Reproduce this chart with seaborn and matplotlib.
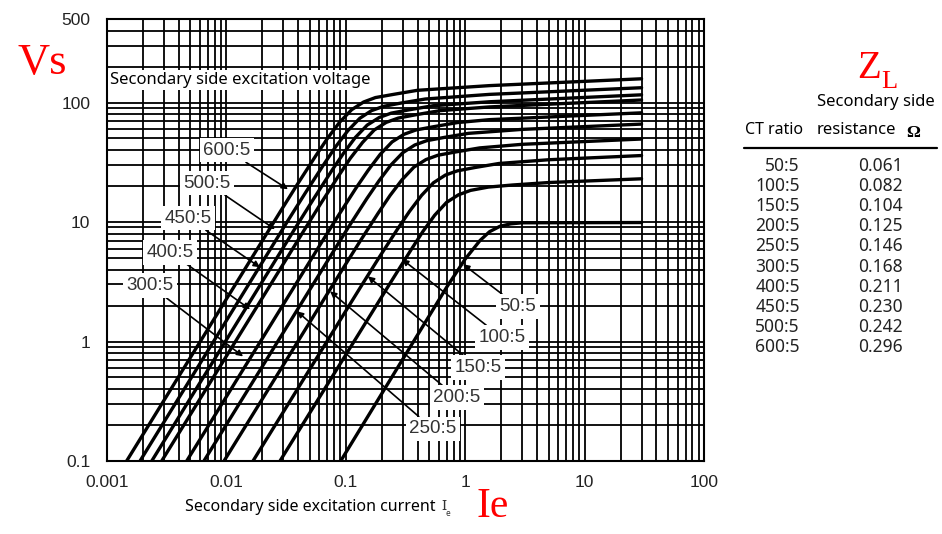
import numpy as np
import pandas as pd
import matplotlib.pyplot as plt
import seaborn as sns
from matplotlib.ticker import FixedLocator, NullFormatter, FixedFormatter
from matplotlib.lines import Line2D

# CT table (right side)
ct_ratios = ['50:5', '100:5', '150:5', '200:5', '250:5',
             '300:5', '400:5', '450:5', '500:5', '600:5']
resistance = ['0.061', '0.082', '0.104', '0.125', '0.146',
              '0.168', '0.211', '0.230', '0.242', '0.296']

# excitation curves: Ie [A] vs Vs [V]
ie_50 = [0.0906, 0.7, 1.0, 1.33, 1.6, 1.95, 2.4, 3.0, 30]
vs_50 = [0.1, 2.85, 4.9, 7.0, 8.3, 9.2, 9.65, 9.85, 9.9]
ie_100 = [0.0281, 0.175, 0.248, 0.350, 0.441, 0.555, 0.698, 0.879, 1.11, 1.56, 2.48, 5.0, 30]
vs_100 = [0.1, 1.91, 3.35, 5.8, 8.3, 11.4, 14.6, 16.9, 18.4, 19.6, 20.4, 21.4, 23]
ie_150 = [0.0167, 0.136, 0.192, 0.272, 0.342, 0.431, 0.542, 0.682, 0.859, 1.21, 1.92, 5.0, 30]
vs_150 = [0.1, 2.96, 5.13, 8.77, 12.3, 16.7, 21.3, 24.7, 26.8, 28.6, 30.9, 33.2, 36]
ie_200 = [0.00955, 0.0935, 0.132, 0.187, 0.235, 0.296, 0.372, 0.469, 0.590, 0.834, 1.32, 3.0, 30]
vs_200 = [0.1, 4.00, 6.93, 11.9, 16.7, 22.6, 28.8, 33.3, 36.2, 38.6, 41.7, 44.7, 49.5]
ie_250 = [0.00648, 0.0753, 0.106, 0.150, 0.189, 0.238, 0.300, 0.378, 0.475, 0.671, 1.064, 3.0, 30]
vs_250 = [0.1, 5.28, 9.16, 15.7, 22.0, 29.9, 38.0, 44.1, 47.9, 51.1, 55.2, 59.6, 66]
ie_300 = [0.00465, 0.0612, 0.0865, 0.122, 0.154, 0.194, 0.244, 0.307, 0.386, 0.546, 0.865, 1.6, 30]
vs_300 = [0.1, 6.50, 11.3, 19.3, 27.1, 36.8, 46.8, 54.2, 58.9, 62.8, 68.0, 71.9, 82]
ie_400 = [0.00287, 0.0436, 0.0615, 0.0869, 0.109, 0.138, 0.173, 0.218, 0.275, 0.388, 0.615, 1.6, 30]
vs_400 = [0.1, 8.18, 14.2, 24.3, 34.1, 46.3, 58.9, 68.2, 74.1, 79.1, 85.5, 91.9, 105]
ie_450 = [0.00237, 0.0380, 0.0537, 0.0759, 0.0955, 0.120, 0.151, 0.191, 0.240, 0.339, 0.537, 1.6, 30]
vs_450 = [0.1, 9.0, 15.6, 26.7, 37.5, 50.9, 64.7, 75.0, 81.5, 86.9, 94.0, 101.5, 116]
ie_500 = [0.00189, 0.0328, 0.0463, 0.0655, 0.0824, 0.104, 0.131, 0.164, 0.207, 0.292, 0.463, 1.6, 30]
vs_500 = [0.1, 10.3, 17.8, 30.4, 42.8, 58.1, 73.8, 85.5, 92.9, 99.1, 107, 117, 133]
ie_600 = [0.00146, 0.0281, 0.0397, 0.0561, 0.0706, 0.0889, 0.112, 0.141, 0.177, 0.251, 0.397, 1.6, 30]
vs_600 = [0.1, 12.1, 21.0, 35.9, 50.5, 68.5, 87.1, 101, 110, 117, 126.5, 138.5, 158]

curves = {'50:5': (ie_50, vs_50), '100:5': (ie_100, vs_100),
          '150:5': (ie_150, vs_150), '200:5': (ie_200, vs_200),
          '250:5': (ie_250, vs_250), '300:5': (ie_300, vs_300),
          '400:5': (ie_400, vs_400), '450:5': (ie_450, vs_450),
          '500:5': (ie_500, vs_500), '600:5': (ie_600, vs_600)}

rows = []
for ratio, (ie, vs) in curves.items():
    rows += [(ratio, i, v) for i, v in zip(ie, vs)]
df = pd.DataFrame(rows, columns=['ratio', 'Ie', 'Vs'])

sns.set_style('white')
plt.rcParams['font.family'] = ['Liberation Sans', 'DejaVu Sans']

W, H = 942, 534
fig = plt.figure(figsize=(W / 100, H / 100), dpi=100)
ax = fig.add_axes([107 / W, 1 - 461 / H, (704 - 107) / W, (461 - 19) / H])
ax.set_xscale('log')
ax.set_yscale('log')

sns.lineplot(data=df, x='Ie', y='Vs', hue='ratio', palette=['black'] * 10,
             estimator=None, sort=False, legend=False, lw=2.4, ax=ax, zorder=3)

ax.set_xlim(0.001, 100)
ax.set_ylim(0.1, 500)

xmaj = [0.001, 0.01, 0.1, 1, 10, 100]
xmin = [m * 10.0 ** k for k in range(-3, 2) for m in range(2, 10)]
ymaj = [0.1, 1, 10, 100, 500]
ymin = [m * 10.0 ** k for k in range(-1, 2) for m in range(2, 10)] + [200, 300, 400]
ax.xaxis.set_major_locator(FixedLocator(xmaj))
ax.xaxis.set_major_formatter(FixedFormatter(['0.001', '0.01', '0.1', '1', '10', '100']))
ax.xaxis.set_minor_locator(FixedLocator(xmin))
ax.xaxis.set_minor_formatter(NullFormatter())
ax.yaxis.set_major_locator(FixedLocator(ymaj))
ax.yaxis.set_major_formatter(FixedFormatter(['0.1', '1', '10', '100', '500']))
ax.yaxis.set_minor_locator(FixedLocator(ymin))
ax.yaxis.set_minor_formatter(NullFormatter())
ax.grid(which='both', color='black', lw=1.3)
ax.set_axisbelow(True)
ax.tick_params(which='both', length=0, labelsize=12.5, labelcolor='#222')
ax.tick_params(axis='x', pad=10)
ax.tick_params(axis='y', pad=12)
ax.set_xlabel('')
ax.set_ylabel('')
for s in ax.spines.values():
    s.set_color('black')
    s.set_linewidth(1.5)

# curve labels: (text position, arrow tip) in data coords
labels = {
    '600:5': ((0.0101, 40), (0.0328, 18.8)),
    '500:5': ((0.00689, 21.2), (0.0255, 8.7)),
    '450:5': ((0.00477, 10.8), (0.0191, 4.18)),
    '400:5': ((0.00337, 5.58), (0.0158, 1.86)),
    '300:5': ((0.00229, 2.95), (0.0138, 0.75)),
    '50:5': ((2.77, 1.97), (0.96, 4.43)),
    '100:5': ((2.03, 1.08), (0.296, 4.88)),
    '150:5': ((1.28, 0.605), (0.153, 3.51)),
    '200:5': ((0.853, 0.339), (0.0738, 2.63)),
    '250:5': ((0.537, 0.186), (0.039, 1.79)),
}
for lab, (txt, tip) in labels.items():
    ax.annotate(lab, xy=tip, xytext=txt, ha='center', va='center',
                fontsize=13.5, color='#333', zorder=5,
                bbox=dict(boxstyle='square,pad=0.2', fc='white', ec='none'),
                arrowprops=dict(arrowstyle='-|>', color='black', lw=1.2,
                                mutation_scale=9, shrinkA=0, shrinkB=0))


def fx(x):
    return x / W


def fy(y):
    return 1 - y / H


sans = ['Noto Sans', 'DejaVu Sans']
serif = ['Liberation Serif', 'DejaVu Serif']

fig.text(fx(18), fy(63), 'Vs', color='red', family=serif, fontsize=32,
         ha='left', va='center')
fig.text(fx(110), fy(80), 'Secondary side excitation voltage', family=sans,
         fontsize=12, color='black', ha='left', va='center', zorder=6,
         bbox=dict(boxstyle='square,pad=0.1', fc='white', ec='none'))
fig.text(fx(185), fy(507), 'Secondary side excitation current', family=sans,
         fontsize=11.5, color='black', ha='left', va='center')
fig.text(fx(441), fy(507), 'I', family=sans, fontsize=11, color='#333',
         ha='left', va='center')
fig.text(fx(446), fy(514), 'e', family=sans, fontsize=6, color='#333',
         ha='left', va='center')
fig.text(fx(477), fy(507), 'Ie', color='red', family=serif, fontsize=30,
         ha='left', va='center')

# right-hand table
fig.text(fx(857), fy(68), 'Z', color='red', family=serif, fontsize=28,
         ha='left', va='center')
fig.text(fx(881), fy(82), 'L', color='red', family=serif, fontsize=19,
         ha='left', va='center')
fig.text(fx(817), fy(102), 'Secondary side', family=sans, fontsize=12,
         color='black', ha='left', va='center')
fig.text(fx(745), fy(130), 'CT ratio', family=sans, fontsize=11.5,
         color='black', ha='left', va='center')
fig.text(fx(817), fy(130), 'resistance', family=sans, fontsize=12,
         color='black', ha='left', va='center')
fig.text(fx(906), fy(133), 'Ω', family=serif, fontsize=12.5, weight='bold',
         color='black', ha='left', va='center')
fig.add_artist(Line2D([fx(744), fx(937)], [fy(148), fy(148)], color='black', lw=1.6))
for k, (r, z) in enumerate(zip(ct_ratios, resistance)):
    y = 166 + 20.1 * k
    fig.text(fx(800), fy(y), r, family=sans, fontsize=12.5, color='#222',
             ha='right', va='center')
    fig.text(fx(880), fy(y), z, family=sans, fontsize=12.5, color='#222',
             ha='center', va='center')

plt.savefig('out.png', dpi=100)
